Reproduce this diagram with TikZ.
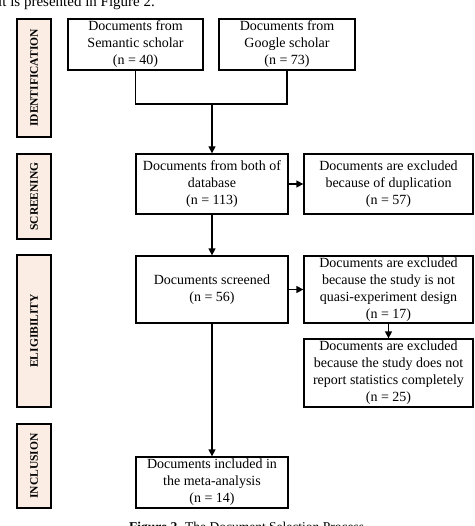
\documentclass[tikz,border=0pt]{standalone}
\usepackage{fontspec}
\setmainfont{Liberation Serif}
\usetikzlibrary{arrows.meta}
\definecolor{peach}{HTML}{FBEDE3}
\begin{document}
\begin{tikzpicture}[x=1pt,y=-1pt,
  box/.style={draw,line width=1.3pt,fill=white,align=center,inner sep=0pt,
    font=\fontsize{14}{17}\selectfont},
  stage/.style={draw,line width=1.3pt,fill=peach,rotate=90,inner sep=0pt,
    minimum height=34,font=\fontsize{11.5}{13}\selectfont\bfseries},
  conn/.style={line width=1.3pt},
  arr/.style={line width=1.3pt,-{Triangle[length=7pt,width=7pt]}}]
\useasboundingbox (0,0) rectangle (474,526);
\clip (0,0) rectangle (474,526);
\fill[white] (0,0) rectangle (474,526);
% cropped surrounding text
\node[anchor=base west,inner sep=0pt,font=\fontsize{15}{17}\selectfont] (toptext) at (-2,7) {it is presented in Figure 2.};
\node[anchor=base west,inner sep=0pt,font=\fontsize{13.5}{16}\selectfont] (caption) at (129,531) {\textbf{Figure 2.} The Document Selection Process};
% stage labels
\node[stage,minimum width=118] (lab1) at (34,78) {IDENTIFICATION};
\node[stage,minimum width=85] (lab2) at (34,196.5) {SCREENING};
\node[stage,minimum width=152] (lab3) at (34,331) {ELIGIBILITY};
\node[stage,minimum width=84] (lab4) at (34,466) {INCLUSION};
% boxes
\node[box,minimum width=135,minimum height=51] (sem) at (135.5,44.5) {Documents from\\Semantic scholar\\(n = 40)};
\node[box,minimum width=136,minimum height=51] (goo) at (287,44.5) {Documents from\\Google scholar\\(n = 73)};
\node[box,minimum width=152,minimum height=60] (both) at (212,184) {Documents from both of\\database\\(n = 113)};
\node[box,minimum width=169,minimum height=60] (exc1) at (388.5,184) {Documents are excluded\\because of duplication\\(n = 57)};
\node[box,minimum width=152,minimum height=67] (scr) at (212,289.5) {Documents screened\\(n = 56)};
\node[box,minimum width=169,minimum height=67] (exc2) at (388.5,289.5) {Documents are excluded\\because the study is not\\quasi-experiment design\\(n = 17)};
\node[box,minimum width=169,minimum height=68] (exc3) at (388.5,373) {Documents are excluded\\because the study does not\\report statistics completely\\(n = 25)};
\node[box,minimum width=152,minimum height=51] (inc) at (212,482.5) {Documents included in\\the meta-analysis\\(n = 14)};
% connectors
\coordinate (j) at (212,104);
\draw[conn] (sem.south) |- (j) -| (goo.south);
\draw[arr] (j) -- (both.north);
\draw[arr] (both.east) -- (exc1.west);
\draw[arr] (both.south) -- (scr.north);
\draw[arr] (scr.east) -- (exc2.west);
\draw[arr] (exc2.south) -- (exc3.north);
\draw[arr] (scr.south) -- (inc.north);
\end{tikzpicture}
\end{document}
